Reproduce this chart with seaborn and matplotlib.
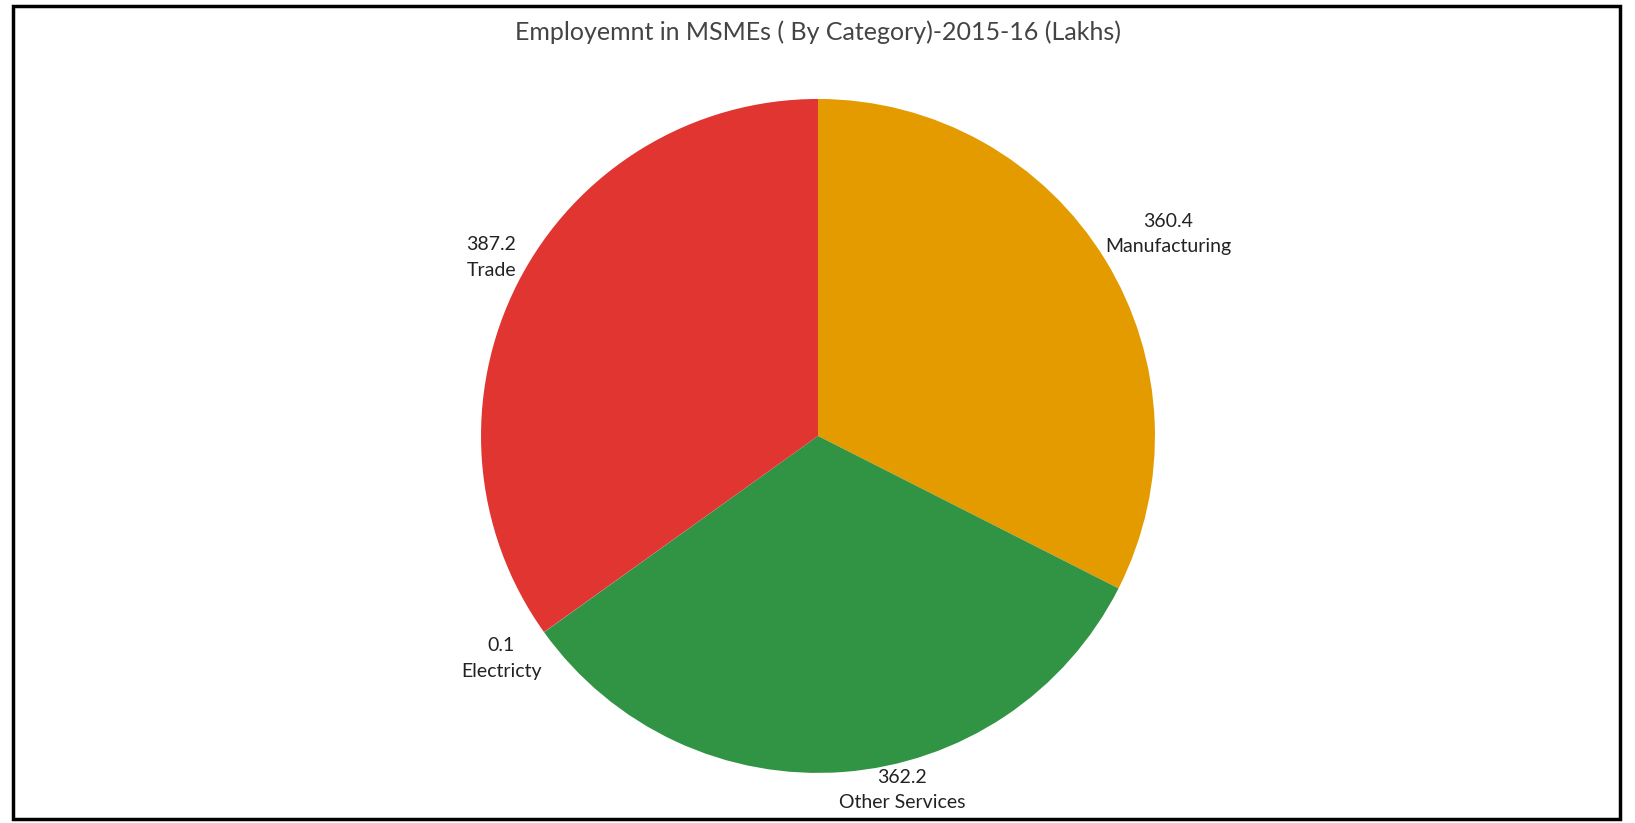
import numpy as np
import seaborn as sns
import matplotlib.pyplot as plt
from matplotlib.patches import Rectangle

categories = ['Manufacturing', 'Other Services', 'Electricty', 'Trade']
values = [360.4, 362.2, 0.1, 387.2]
colors = ['#E39B00', '#319445', '#6A8CC7', '#E03531']
# label centres (pie units), as placed in the original
label_pos = [(1.04, 0.60), (0.25, -1.05), (-0.94, -0.66), (-0.97, 0.53)]

sns.set_theme(style='white')
plt.rcParams['font.family'] = ['Lato', 'DejaVu Sans']

fig = plt.figure(figsize=(16.35, 8.23), dpi=100)
ax = fig.add_axes([0.2942, 0.0608, 0.4122, 0.819])
labels = ['%s\n%s' % (v, c) for v, c in zip(values, categories)]
wedges, texts = ax.pie(values, colors=colors, startangle=90, counterclock=False,
                       labels=labels, labeldistance=1.13,
                       textprops=dict(fontsize=14, color='#222222', ha='center',
                                      va='center', linespacing=1.6),
                       wedgeprops=dict(linewidth=0))
for t, p in zip(texts, label_pos):
    t.set_horizontalalignment('center')
    t.set_position(p)
ax.set_xlim(-1, 1)
ax.set_ylim(-1, 1)
ax.set_aspect('equal')
ax.axis('off')

fig.text(0.5, 1 - 32 / 823, 'Employemnt in MSMEs ( By Category)-2015-16 (Lakhs)',
         ha='center', va='center', fontsize=18, color='#444444')
fig.patches.append(Rectangle((13 / 1635, 4 / 823), 1607 / 1635, 813 / 823,
                             transform=fig.transFigure, fill=False,
                             edgecolor='black', linewidth=2.5))
fig.savefig('out.png', dpi=100)
